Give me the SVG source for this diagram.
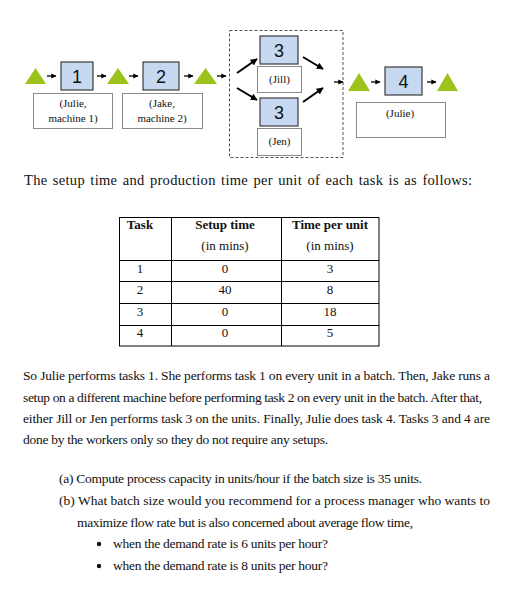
<svg xmlns="http://www.w3.org/2000/svg" width="527" height="613" viewBox="0 0 527 613">
<defs>
<style>
.tri{fill:#9bc31c;}
.box{fill:#c6d9f0;stroke:#3a3a3a;stroke-width:1.2;}
.lbl{fill:#fff;stroke:#8a8a8a;stroke-width:1;}
.num{font-family:"Liberation Sans",Arial,sans-serif;font-size:18px;fill:#111;text-anchor:middle;}
.nt{font-family:"Liberation Serif","Times New Roman",serif;font-size:11px;fill:#111;text-anchor:middle;}
.body{font-family:"Liberation Serif","Times New Roman",serif;font-size:13.5px;fill:#111;}
.lead{font-size:14.5px;word-spacing:1.5px;}
.th{font-family:"Liberation Serif","Times New Roman",serif;font-size:13px;font-weight:bold;fill:#111;text-anchor:middle;}
.td{font-family:"Liberation Serif","Times New Roman",serif;font-size:13px;fill:#111;text-anchor:middle;}
.sa{stroke:#000;stroke-width:1.3;fill:none;marker-end:url(#ah);}
.da{stroke:#000;stroke-width:2;fill:none;marker-end:url(#ah2);}
.grid{stroke:#000;stroke-width:1;fill:none;}
</style>
<marker id="ah" viewBox="0 0 10 10" refX="9" refY="5" markerWidth="4" markerHeight="4" markerUnits="strokeWidth" orient="auto"><path d="M0,0 L10,5 L0,10 z" fill="#000"/></marker>
<marker id="ah2" viewBox="0 0 10 10" refX="9" refY="5" markerWidth="3.5" markerHeight="3.5" markerUnits="strokeWidth" orient="auto"><path d="M0,0 L10,5 L0,10 z" fill="#000"/></marker>
</defs>
<rect width="527" height="613" fill="#fff"/>

<g id="parallel-group">
<rect x="229.5" y="30.5" width="113.5" height="127" fill="none" stroke="#555" stroke-width="1" stroke-dasharray="3,2"/>
</g>

<g id="inv1"><polygon class="tri" points="25,84 35.5,68 46,84"/></g>
<g id="task1">
<rect class="box" x="61" y="62" width="32" height="28"/>
<text class="num" x="77" y="82.5">1</text>
<rect class="lbl" x="33.5" y="93.5" width="79" height="35"/>
<text class="nt" x="73" y="107">(Julie,</text>
<text class="nt" x="73" y="122">machine  1)</text>
</g>
<g id="inv2"><polygon class="tri" points="107,84 118,68 129,84"/></g>
<g id="task2">
<rect class="box" x="143" y="62" width="36" height="28"/>
<text class="num" x="161" y="82.5">2</text>
<rect class="lbl" x="122.5" y="93.5" width="80" height="35"/>
<text class="nt" x="162" y="107">(Jake,</text>
<text class="nt" x="162" y="122">machine  2)</text>
</g>
<g id="inv3"><polygon class="tri" points="194,84 205.5,68 217,84"/></g>
<g id="task3-jill">
<rect class="box" x="260" y="36" width="38" height="28"/>
<text class="num" x="279" y="56.5">3</text>
<rect class="lbl" x="257.5" y="66.5" width="44" height="26"/>
<text class="nt" x="279.5" y="83">(Jill)</text>
</g>
<g id="task3-jen">
<rect class="box" x="260" y="98" width="38" height="28"/>
<text class="num" x="279" y="118.5">3</text>
<rect class="lbl" x="257.5" y="128.5" width="44" height="27"/>
<text class="nt" x="279.5" y="145">(Jen)</text>
</g>
<g id="inv4"><polygon class="tri" points="348,91 359,73 370,91"/></g>
<g id="task4">
<rect class="box" x="385" y="67" width="37" height="28"/>
<text class="num" x="403.5" y="87.5">4</text>
<rect class="lbl" x="356.5" y="102.5" width="89" height="35"/>
<text class="nt" x="400" y="117">(Julie)</text>
</g>
<g id="inv5"><polygon class="tri" points="437,91 447.5,73 458,91"/></g>

<g id="connectors">
<line class="sa" x1="47" y1="76" x2="56" y2="76"/>
<line class="sa" x1="97" y1="76" x2="106" y2="76"/>
<line class="sa" x1="129" y1="76" x2="138" y2="76"/>
<line class="sa" x1="184" y1="76" x2="193" y2="76"/>
<line class="sa" x1="217" y1="76" x2="226" y2="76"/>
<line class="da" x1="237" y1="73" x2="257" y2="59"/>
<line class="da" x1="237" y1="88" x2="257" y2="100"/>
<line class="da" x1="303" y1="57" x2="323" y2="69"/>
<line class="da" x1="303" y1="102" x2="323" y2="88"/>
<line class="sa" x1="334" y1="82" x2="343" y2="82"/>
<line class="sa" x1="371" y1="82" x2="380" y2="82"/>
<line class="sa" x1="427" y1="82" x2="436" y2="82"/>
</g>

<text class="body lead" x="24" y="185" textLength="448">The setup time and production time per unit of each task is as follows:</text>

<g id="table">
<rect class="grid" x="119.5" y="217.5" width="259.5" height="128.5"/>
<line class="grid" x1="171.5" y1="217.5" x2="171.5" y2="346"/>
<line class="grid" x1="281.5" y1="217.5" x2="281.5" y2="346"/>
<line class="grid" x1="119.5" y1="260.5" x2="379" y2="260.5"/>
<line class="grid" x1="119.5" y1="281.5" x2="379" y2="281.5"/>
<line class="grid" x1="119.5" y1="303.5" x2="379" y2="303.5"/>
<line class="grid" x1="119.5" y1="325.5" x2="379" y2="325.5"/>
<text class="th" x="140" y="229">Task</text>
<text class="th" x="225" y="229">Setup time</text>
<text class="th" x="330" y="229">Time per unit</text>
<text class="td" x="225" y="250">(in mins)</text>
<text class="td" x="330" y="250">(in mins)</text>
<text class="td" x="140" y="273">1</text><text class="td" x="225" y="273">0</text><text class="td" x="330" y="273">3</text>
<text class="td" x="140" y="294">2</text><text class="td" x="225" y="294">40</text><text class="td" x="330" y="294">8</text>
<text class="td" x="140" y="316">3</text><text class="td" x="225" y="316">0</text><text class="td" x="330" y="316">18</text>
<text class="td" x="140" y="337">4</text><text class="td" x="225" y="337">0</text><text class="td" x="330" y="337">5</text>
</g>

<text class="body" x="23" y="380" textLength="467">So Julie performs tasks 1. She performs task 1 on every unit in a batch. Then, Jake runs a</text>
<text class="body" x="23" y="402" textLength="459">setup on a different machine before performing task 2 on every unit in the batch.  After that,</text>
<text class="body" x="23" y="423" textLength="467">either Jill or Jen performs task 3 on the units.  Finally, Julie does task 4. Tasks 3 and 4 are</text>
<text class="body" x="23" y="444" textLength="305">done by the workers only so they do not require any setups.</text>

<text class="body" x="59" y="483" textLength="363">(a) Compute process capacity in units/hour if the batch size is 35 units.</text>
<text class="body" x="59" y="505" textLength="431">(b) What batch size would you recommend for a process manager who wants to</text>
<text class="body" x="77" y="527" textLength="336">maximize flow rate but is also concerned about average flow time,</text>
<circle cx="99" cy="544" r="2.2" fill="#111"/>
<text class="body" x="113" y="548" textLength="215">when the demand rate is 6 units per hour?</text>
<circle cx="99" cy="566" r="2.2" fill="#111"/>
<text class="body" x="113" y="570" textLength="215">when the demand rate is 8 units per hour?</text>
</svg>
